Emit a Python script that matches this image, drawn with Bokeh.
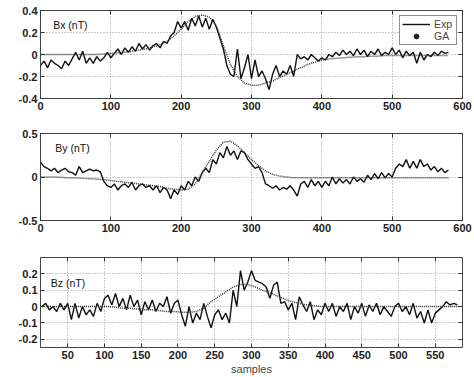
import numpy as np
from bokeh.plotting import figure
from bokeh.layouts import column
from bokeh.models import (FixedTicker, Label, Legend, LegendItem, Range1d,
                          LinearAxis, CustomLabelingPolicy)
from bokeh.embed import file_html
from bokeh.resources import INLINE

# ---------------- data ----------------
# Bx, experimental, every 5 samples from 0
bx_exp = [
    -0.10, -0.06, -0.12, -0.05, -0.08, -0.10, -0.13, -0.06, -0.10, -0.04,
    0.02, -0.05, 0.03, -0.08, -0.03, -0.08, -0.02, -0.06, -0.03, 0.02,
    -0.03, 0.01, 0.05, 0.00, 0.06, 0.02, 0.07, 0.03, 0.10, 0.05,
    0.09, 0.04, 0.08, 0.10, 0.06, 0.12, 0.10, 0.17, 0.20, 0.30,
    0.24, 0.30, 0.22, 0.33, 0.26, 0.35, 0.25, 0.33, 0.23, 0.32,
    0.25, 0.15, 0.05, -0.10, -0.18, -0.20, 0.05, -0.22, -0.12, 0.00,
    -0.22, -0.05, -0.20, -0.15, -0.22, -0.32, -0.18, -0.10, -0.20, -0.15,
    -0.18, -0.10, -0.20, 0.00, -0.04, -0.02, -0.05, 0.00, -0.03, -0.06,
    -0.03, -0.05, 0.00, -0.02, 0.02, -0.01, 0.04, 0.00, 0.03, -0.01,
    0.05, 0.00, 0.04, -0.02, 0.03, 0.00, 0.05, -0.01, 0.02, 0.00,
    0.06, 0.00, 0.04, -0.03, 0.03, -0.01, 0.02, -0.08, 0.02, -0.05,
    0.00, -0.02, 0.02, -0.01, 0.03, 0.01, 0.02,
]
# Bx, GA model, every 10 samples from 0
bx_ga = [
    0.0, 0.0, 0.0, 0.0, 0.0, 0.0, 0.0, 0.0, 0.0, 0.005,
    0.01, 0.015, 0.02, 0.03, 0.04, 0.05, 0.07, 0.09, 0.12, 0.17,
    0.23, 0.30, 0.345, 0.36, 0.34, 0.26, 0.08, -0.09, -0.20, -0.26,
    -0.28, -0.28, -0.26, -0.24, -0.21, -0.18, -0.15, -0.12, -0.09, -0.07,
    -0.05, -0.04, -0.035, -0.03, -0.025, -0.02, -0.02, -0.015, -0.015, -0.01,
    -0.01, -0.01, -0.01, -0.01, -0.01, -0.01, -0.01, -0.01, -0.01,
]
# By, experimental, every 5 samples from 0
by_exp = [
    0.17, 0.12, 0.10, 0.07, 0.10, 0.05, 0.08, 0.10, 0.06, 0.05,
    0.02, 0.12, 0.05, 0.07, 0.09, 0.07, 0.08, 0.06, -0.05, -0.10,
    -0.12, -0.08, -0.15, -0.10, -0.08, -0.12, -0.06, -0.15, -0.10, -0.08,
    -0.12, -0.10, -0.15, -0.10, -0.18, -0.12, -0.15, -0.25, -0.15, -0.20,
    -0.10, -0.15, -0.05, -0.10, 0.00, -0.05, 0.05, 0.10, 0.05, 0.20,
    0.15, 0.28, 0.22, 0.35, 0.25, 0.30, 0.20, 0.30, 0.28, 0.20,
    0.15, 0.10, 0.12, 0.05, -0.08, -0.10, -0.13, -0.10, -0.15, -0.12,
    -0.14, -0.10, -0.15, -0.22, -0.08, -0.05, -0.12, -0.03, -0.10, -0.05,
    -0.12, -0.05, -0.10, 0.00, -0.08, -0.02, -0.07, -0.03, -0.08, 0.00,
    -0.05, -0.02, -0.06, 0.02, -0.03, 0.04, -0.02, 0.05, -0.01, 0.04,
    0.00, 0.10, 0.15, 0.12, 0.20, 0.10, 0.18, 0.10, 0.20, 0.12,
    0.15, 0.08, 0.12, 0.06, 0.10, 0.05, 0.08,
]
# By, GA model, every 10 samples from 0
by_ga = [
    0.0, 0.0, 0.0, -0.005, -0.01, -0.01, -0.015, -0.02, -0.025, -0.03,
    -0.04, -0.05, -0.06, -0.07, -0.08, -0.09, -0.10, -0.11, -0.13, -0.14,
    -0.15, -0.14, -0.08, 0.05, 0.18, 0.31, 0.40, 0.41, 0.36, 0.28,
    0.20, 0.13, 0.07, 0.03, 0.01, 0.0, -0.01, -0.01, -0.01, -0.01,
    -0.01, -0.01, -0.01, -0.01, -0.01, -0.01, -0.01, -0.01, -0.01, -0.01,
    -0.01, -0.01, -0.01, -0.01, -0.01, -0.01, -0.01, -0.01, -0.01,
]
# Bz, experimental, every 5 samples from 15
bz_exp = [
    0.00, 0.02, -0.02, 0.00, -0.03, 0.02, -0.02, 0.02, -0.08, 0.02,
    -0.07, 0.00, -0.05, -0.02, -0.06, 0.02, -0.03, 0.05, 0.07, 0.01,
    0.08, 0.00, 0.05, -0.02, 0.07, 0.00, 0.04, -0.05, 0.03, -0.02,
    0.04, -0.03, 0.02, 0.00, 0.06, -0.04, 0.02, 0.04, -0.05, -0.12,
    0.00, -0.10, -0.04, -0.08, 0.02, -0.06, -0.13, -0.05, -0.02, -0.08,
    -0.04, -0.10, 0.10, 0.00, 0.22, 0.10, 0.15, 0.22, 0.16, 0.15,
    0.14, 0.12, 0.05, 0.13, 0.15, 0.02, 0.03, -0.02, 0.02, -0.08,
    0.06, 0.01, -0.03, 0.03, -0.08, -0.02, -0.05, 0.02, -0.03, 0.02,
    -0.06, 0.00, -0.03, 0.02, -0.08, 0.00, -0.04, 0.02, -0.06, 0.01,
    -0.03, 0.02, -0.05, 0.00, -0.03, -0.06, 0.00, 0.02, -0.03, 0.00,
    -0.05, 0.02, -0.07, -0.03, -0.10, -0.02, -0.10, -0.04, -0.02, 0.00,
    0.03, 0.01, 0.02, 0.01,
]
# Bz, GA model, every 10 samples from 15
bz_ga = [
    0.0, 0.0, 0.0, 0.0, 0.0, 0.0, 0.0, 0.0, 0.0, 0.0,
    -0.005, -0.01, -0.01, -0.015, -0.02, -0.02, -0.025, -0.03, -0.03, -0.035,
    -0.035, -0.03, -0.01, 0.03, 0.06, 0.09, 0.12, 0.135, 0.135, 0.12,
    0.10, 0.085, 0.065, 0.045, 0.03, 0.02, 0.01, 0.005, 0.0, 0.0,
    0.0, 0.0, 0.0, 0.0, 0.0, 0.0, 0.0, 0.0, 0.0, 0.0,
    0.0, 0.0, 0.0, 0.0, 0.0, 0.0, 0.0, 0.0,
]

bx_exp_x = list(range(0, 5 * len(bx_exp), 5))
bx_ga_x = list(range(0, 10 * len(bx_ga), 10))
by_exp_x = list(range(0, 5 * len(by_exp), 5))
by_ga_x = list(range(0, 10 * len(by_ga), 10))
bz_exp_x = list(range(15, 15 + 5 * len(bz_exp), 5))
bz_ga_x = list(range(15, 15 + 10 * len(bz_ga), 10))

xticks_12 = [0, 100, 200, 300, 400, 500, 600]
xticks_3 = [50, 100, 150, 200, 250, 300, 350, 400, 450, 500, 550]
yticks_1 = [-0.4, -0.2, 0, 0.2, 0.4]
yticks_2 = [-0.5, 0, 0.5]
yticks_3 = [-0.2, -0.1, 0, 0.1, 0.2]
panel_labels = ["Bx (nT)", "By (nT)", "Bz (nT)"]
legend_labels = ["Exp", "GA"]
x_label = "samples"

FONT = "Liberation Sans"
EXP_COLOR = "#111111"
GA_COLOR = "#333333"


def fmt(v):
    if v == 0:
        return "0"
    return ("%g" % v)


def mirror_axis(p, loc, ticks):
    # box ticks on the top/right edges (no labels)
    ax = LinearAxis(ticker=FixedTicker(ticks=ticks))
    ax.major_label_policy = CustomLabelingPolicy(code="")
    ax.major_label_text_font_size = "1px"
    ax.major_label_standoff = 0
    ax.major_tick_in = 4
    ax.major_tick_out = 0
    ax.minor_tick_line_color = None
    ax.axis_line_color = None
    ax.major_tick_line_color = "#333333"
    p.add_layout(ax, loc)


def panel(xr, yr, xt, yt, ygrid, height, btop, bbot, ex, ey, gx, gy, lab, lab_x, lab_y):
    p = figure(width=472, height=height, x_range=Range1d(*xr), y_range=Range1d(*yr),
               output_backend="svg", toolbar_location=None,
               min_border_left=40, min_border_right=10,
               min_border_top=btop, min_border_bottom=bbot,
               background_fill_color="white", border_fill_color="white")
    p.outline_line_color = "#444444"
    p.outline_line_width = 1
    p.xaxis.ticker = FixedTicker(ticks=xt)
    p.yaxis.ticker = FixedTicker(ticks=yt)
    p.xaxis.major_label_overrides = {t: fmt(t) for t in xt}
    p.yaxis.major_label_overrides = {t: fmt(t) for t in yt}
    for ax in (p.xaxis[0], p.yaxis[0]):
        ax.major_tick_in = 4
        ax.major_tick_out = 0
        ax.minor_tick_line_color = None
        ax.axis_line_color = None
        ax.major_tick_line_color = "#333333"
        ax.major_label_text_font = FONT
        ax.major_label_text_font_size = "11px"
        ax.major_label_text_font_style = "bold"
        ax.major_label_text_color = "#222222"
        ax.major_label_standoff = 3
    mirror_axis(p, "right", yt)
    mirror_axis(p, "above", xt)
    p.xgrid.ticker = FixedTicker(ticks=xt)
    p.ygrid.ticker = FixedTicker(ticks=ygrid)
    for g in (p.xgrid[0], p.ygrid[0]):
        g.grid_line_color = "#9a9a9a"
        g.grid_line_dash = "1 2"
        g.grid_line_width = 1
    r_exp = p.line(ex, ey, line_color=EXP_COLOR, line_width=1.4)
    p.line(gx, gy, line_color=GA_COLOR, line_width=1.5, line_dash="1 1")
    # dot marker used only as the legend symbol of the GA series
    r_dots = p.scatter(gx, gy, size=2.6, color="#222222", visible=False)
    p.add_layout(Label(x=lab_x, y=lab_y, text=lab, text_font=FONT,
                       text_font_size="10.5px", text_baseline="middle",
                       text_color="#111111"))
    return p, r_exp, r_dots


p1, e1, d1 = panel((0, 600), (-0.4, 0.4), xticks_12, yticks_1, [-0.2, 0, 0.2], 125, 10, 27,
                   bx_exp_x, bx_exp, bx_ga_x, bx_ga, panel_labels[0], 18, 0.264)
p2, e2, d2 = panel((0, 600), (-0.5, 0.5), xticks_12, yticks_2, [0], 125, 8, 30,
                   by_exp_x, by_exp, by_ga_x, by_ga, panel_labels[1], 21, 0.333)
p3, e3, d3 = panel((13, 587), (-0.25, 0.3), xticks_3, yticks_3, yticks_3, 127, 7, 30,
                   bz_exp_x, bz_exp, bz_ga_x, bz_ga, panel_labels[2], 27, 0.144)
xax3 = p3.below[0]
xax3.axis_label = x_label
xax3.axis_label_text_font = FONT
xax3.axis_label_text_font_size = "11px"
xax3.axis_label_text_font_style = "normal"
xax3.axis_label_standoff = 1

legend = Legend(items=[LegendItem(label=legend_labels[0], renderers=[e1]),
                       LegendItem(label=legend_labels[1], renderers=[d1])],
                location="top_right")
legend.label_text_font = FONT
legend.label_text_font_size = "10.5px"
legend.border_line_color = "#222222"
legend.border_line_width = 1
legend.glyph_width = 28
legend.glyph_height = 12
legend.label_height = 12
legend.spacing = 0
legend.padding = 2
legend.margin = 5
legend.label_standoff = 4
legend.inactive_fill_alpha = 0.0
p1.add_layout(legend)

layout = column(p1, p2, p3, spacing=0)
open("out.html", "w").write(file_html(layout, INLINE))
